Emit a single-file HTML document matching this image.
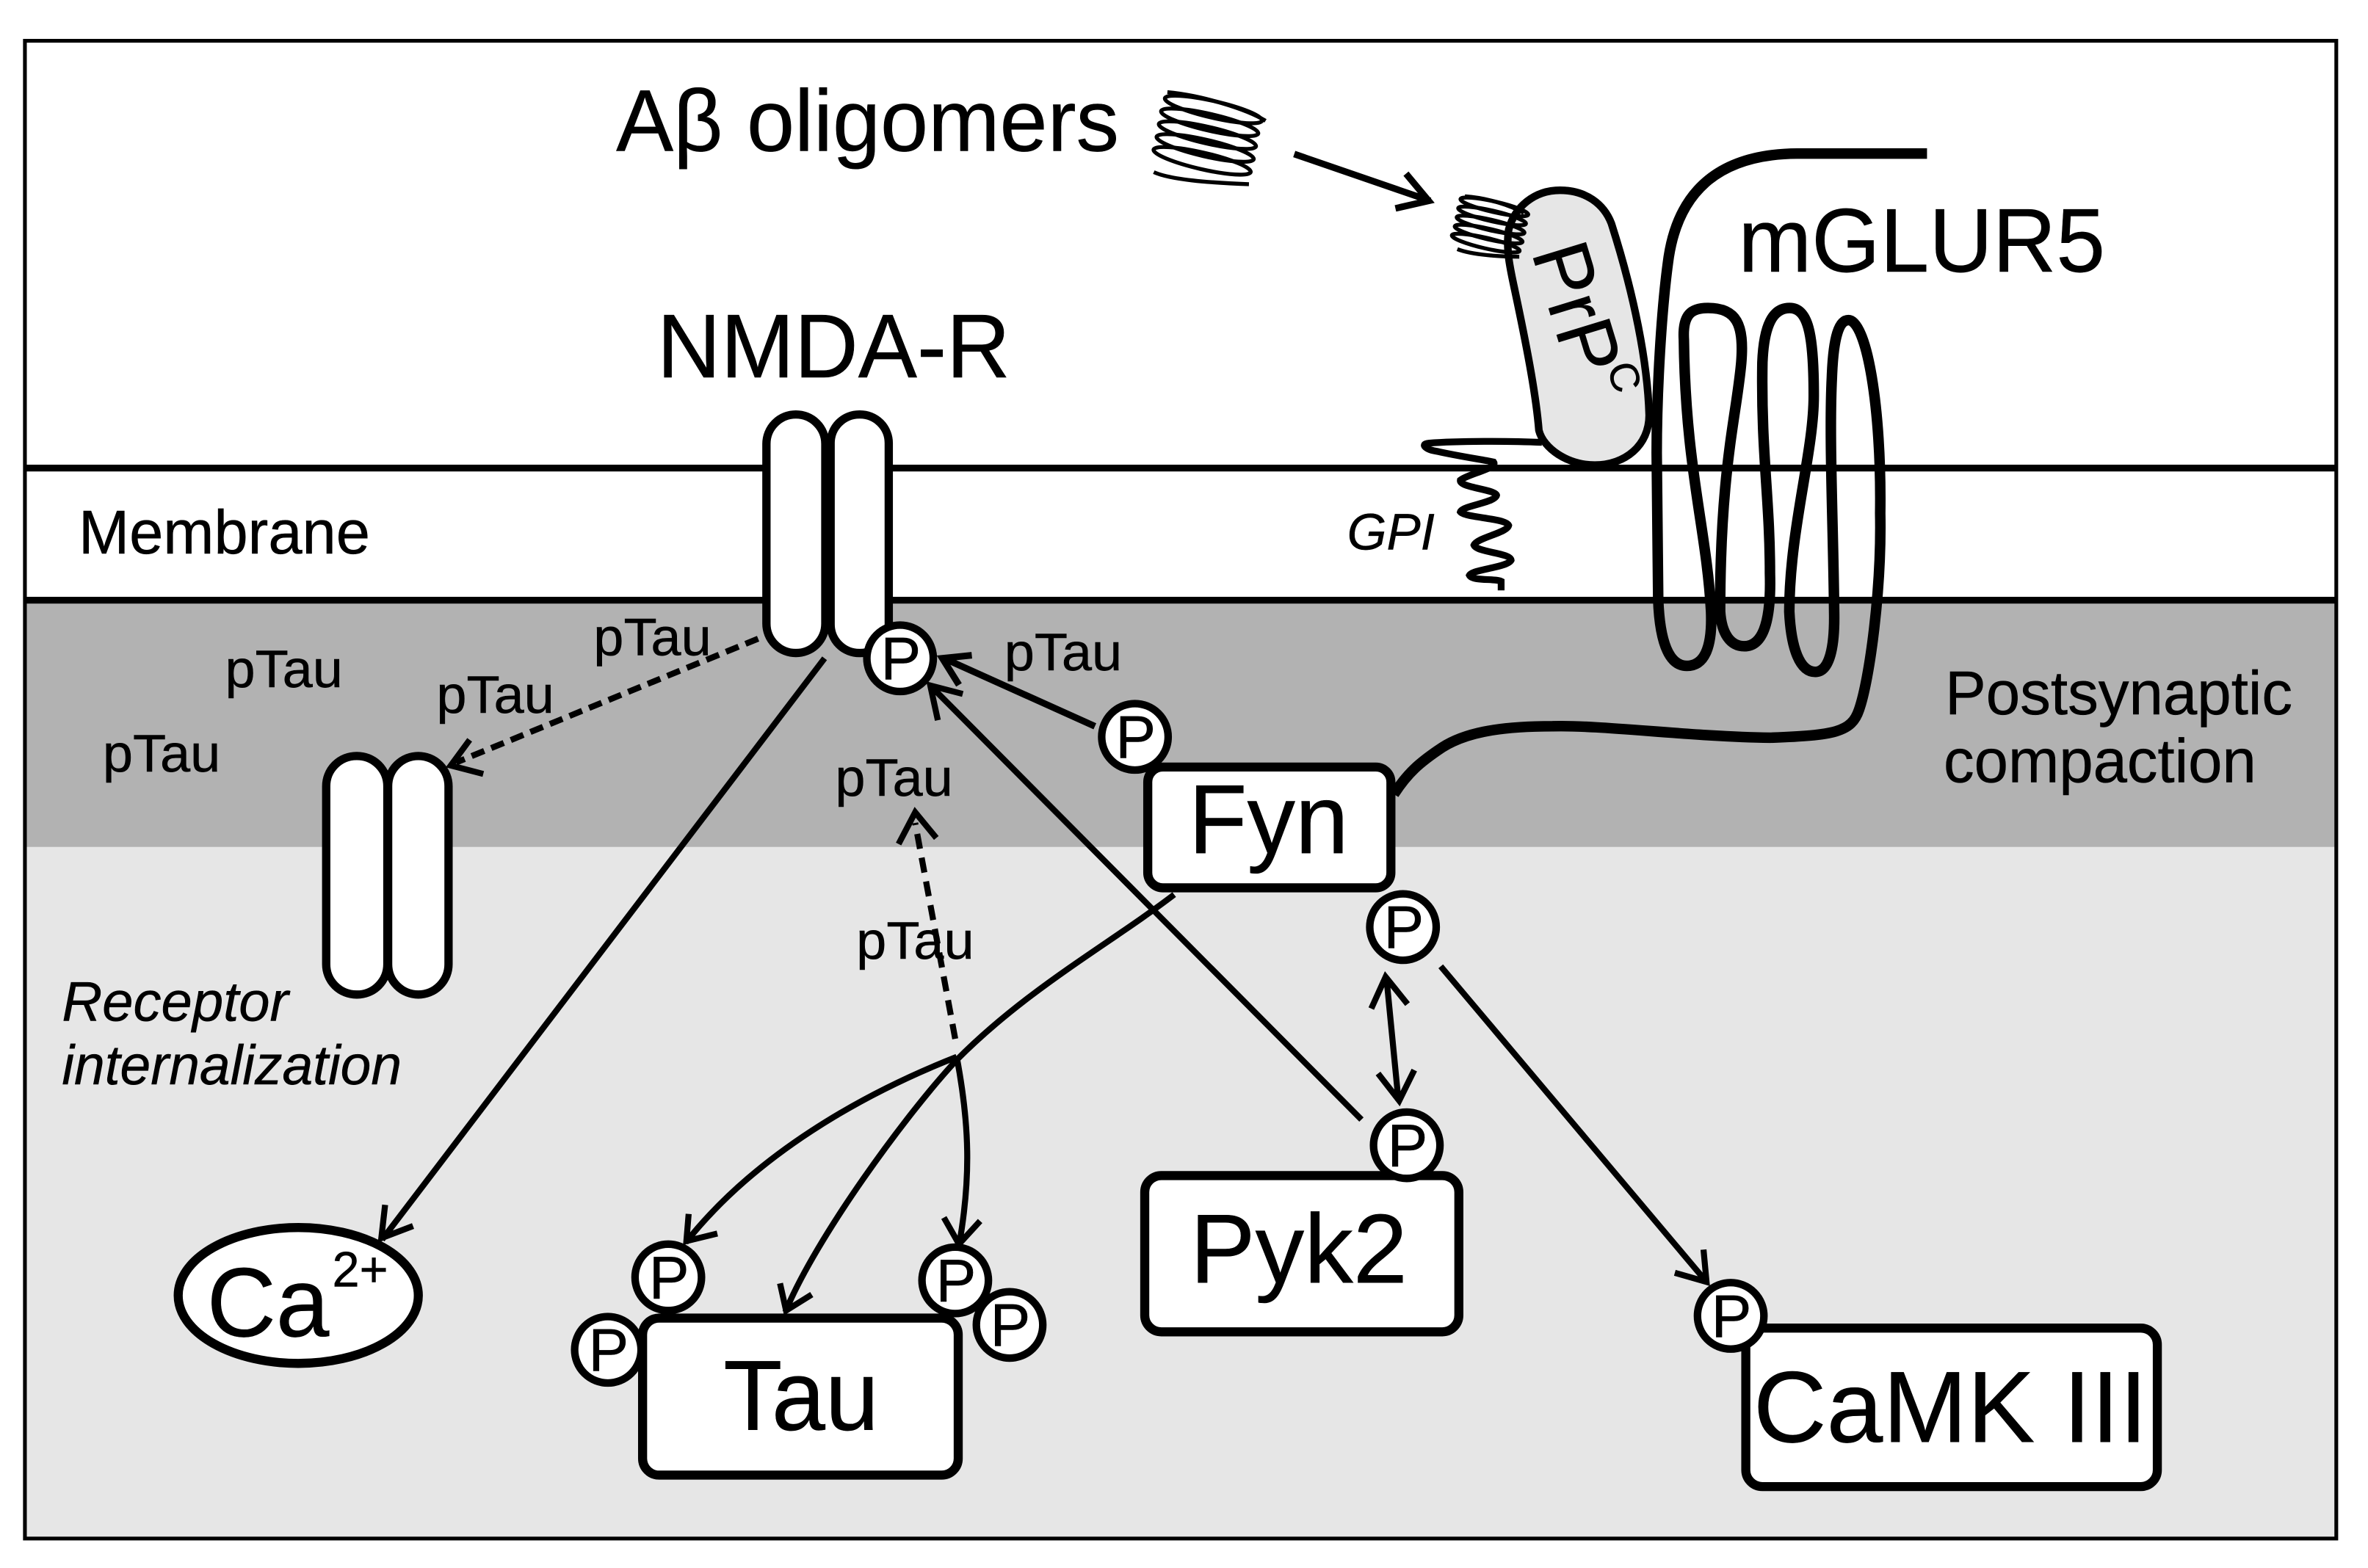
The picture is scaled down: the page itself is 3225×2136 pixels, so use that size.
<!DOCTYPE html>
<html><head><meta charset="utf-8"><title>Aβ oligomers signaling</title>
<style>html,body{margin:0;padding:0;background:#fff}svg{display:block}
text{font-family:"Liberation Sans",Arial,sans-serif;fill:#000;text-rendering:geometricPrecision;stroke:#000;stroke-width:.25}
.i{font-style:italic}
.a{fill:none;stroke:#000;stroke-width:4}
.p{fill:#fff;stroke:#000;stroke-width:5}
.b{fill:#fff;stroke:#000;stroke-width:6}
.c{fill:#fff;stroke:#000;stroke-width:5.5}
.t{font-size:35px}
.pt{font-size:40px;text-anchor:middle}
</style></head><body>
<svg xmlns="http://www.w3.org/2000/svg" width="3225" height="2136" viewBox="0 0 1568 1038.5">
<rect width="1568" height="1038.5" fill="#fff"/>
<rect x="16.5" y="397" width="1530" height="164" fill="#b2b2b2"/>
<rect x="16.5" y="561" width="1530" height="458" fill="#e6e6e6"/>
<rect x="16.5" y="27" width="1530.5" height="992" fill="none" stroke="#000" stroke-width="2.5"/>
<line x1="16.5" y1="310" x2="1547" y2="310" stroke="#000" stroke-width="4.5"/>
<line x1="16.5" y1="397.5" x2="1547" y2="397.5" stroke="#000" stroke-width="4.5"/>

<text x="408" y="100" font-size="58" textLength="333" lengthAdjust="spacingAndGlyphs">Aβ oligomers</text>
<text x="435" y="250" font-size="60" textLength="234" lengthAdjust="spacingAndGlyphs">NMDA-R</text>
<text x="1151" y="180" font-size="60" textLength="243" lengthAdjust="spacingAndGlyphs">mGLUR5</text>
<text x="52" y="366.5" font-size="41" textLength="193" lengthAdjust="spacingAndGlyphs">Membrane</text>
<text x="1288" y="473" font-size="41" textLength="230" lengthAdjust="spacingAndGlyphs">Postsynaptic</text>
<text x="1287" y="518" font-size="41" textLength="207" lengthAdjust="spacingAndGlyphs">compaction</text>
<text class="i" x="41" y="676" font-size="37" textLength="150" lengthAdjust="spacingAndGlyphs">Receptor</text>
<text class="i" x="41" y="718" font-size="37" textLength="225" lengthAdjust="spacingAndGlyphs">internalization</text>
<text class="i" x="892" y="364" font-size="34" textLength="58" lengthAdjust="spacingAndGlyphs">GPI</text>
<text class="t" x="393" y="434" textLength="78" lengthAdjust="spacingAndGlyphs">pTau</text>
<text class="t" x="149" y="455" textLength="78" lengthAdjust="spacingAndGlyphs">pTau</text>
<text class="t" x="289" y="472" textLength="78" lengthAdjust="spacingAndGlyphs">pTau</text>
<text class="t" x="68" y="511" textLength="78" lengthAdjust="spacingAndGlyphs">pTau</text>
<text class="t" x="665" y="444" textLength="78" lengthAdjust="spacingAndGlyphs">pTau</text>
<text class="t" x="553" y="527" textLength="78" lengthAdjust="spacingAndGlyphs">pTau</text>
<text class="t" x="567" y="635" textLength="78" lengthAdjust="spacingAndGlyphs">pTau</text>

<!-- PrP -->
<path d="M1033,126 C1016,126 1003,137 999,152 C997,165 1000,178 1003,192 C1010,225 1017,260 1019,285 C1022,297 1038,308 1056,308 C1076,308 1092,295 1092,275 C1091,240 1082,195 1067,148 C1062,135 1050,126 1033,126 Z" fill="#e6e6e6" stroke="#000" stroke-width="5"/>
<text transform="translate(1014,167) rotate(73)" font-size="53">PrP</text>
<text transform="translate(1064,243) rotate(73)" font-size="27">C</text>
<!-- GPI -->
<path d="M1021,293 C1000,292 965,292 946,293.5 C940,294 944,298 952,299 C965,302 985,305 989,306 C992,310 972,314 967,318 C966,323 990,324 991,328 C990,333 968,335 967,339 C970,343 997,343 999,348 C998,353 978,356 976,361 C978,366 1000,366 1000.6,371 C998,376 975,377 973,381 C975,385 990,383 994,385 L994,391" fill="none" stroke="#000" stroke-width="4.5"/>
<!-- mGLUR5 -->
<path d="M1276,101.7 L1190,101.7 C1140,102 1112,125 1105,170 C1100,205 1097,260 1097,300 L1098,397 C1099,425 1105,441 1117,441 C1128,441 1134,430 1133,405 C1130,350 1116,310 1115,225 C1114,208 1120,204 1131,204 C1150,204 1155,215 1153,240 C1150,275 1139,310 1139,405 C1140,420 1146,428 1155,428 C1166,428 1173,415 1172,380 C1172,330 1166,300 1167,240 C1168,215 1174,204 1185,204 C1197,204 1201,220 1201,262 C1201,300 1185,350 1184.8,405 C1186,430 1192,445 1202,445 C1211,445 1215,430 1214.5,405 C1214,350 1211,290 1213,250 C1214,222 1218,212 1224,212 C1236,212 1246,270 1245,340 C1246,390 1238,450 1231,470 C1226,485 1215,487 1172,488.6 C1120,488 1060,480 1028,481 C990,481 969,486 955,495 C940,505 932,512 923,526" fill="none" stroke="#000" stroke-width="7"/>

<!-- oligomers large -->
<g style="fill:none;stroke:#000;stroke-width:2.6">
<ellipse cx="803.5" cy="72.5" rx="33" ry="5.5" transform="rotate(13 803.5 72.5)"/>
<ellipse cx="801" cy="81" rx="33" ry="5.5" transform="rotate(13 801 81)"/>
<ellipse cx="799.5" cy="89.5" rx="33" ry="5.5" transform="rotate(13 799.5 89.5)"/>
<ellipse cx="798" cy="98" rx="33" ry="5.5" transform="rotate(13 798 98)"/>
<ellipse cx="796" cy="106.5" rx="33" ry="5.5" transform="rotate(13 796 106.5)"/>
<path d="M773,61 C795,63 825,72 838,80 M764,114 C775,119 800,121 827,122"/>
</g>
<!-- oligomers small -->
<g style="fill:none;stroke:#000;stroke-width:2.6">
<ellipse cx="989.5" cy="137" rx="23" ry="3.5" transform="rotate(13 989.5 137)"/>
<ellipse cx="988" cy="143" rx="23" ry="3.5" transform="rotate(13 988 143)"/>
<ellipse cx="987" cy="149" rx="23" ry="3.5" transform="rotate(13 987 149)"/>
<ellipse cx="985.7" cy="155" rx="23" ry="3.5" transform="rotate(13 985.7 155)"/>
<ellipse cx="983.8" cy="161" rx="23" ry="3.5" transform="rotate(13 983.8 161)"/>
<path d="M970,130 C985,131 1000,136 1009,141 M965,165 C975,169 995,170 1006,170"/>
</g>

<!-- NMDA -->
<rect class="c" x="507.5" y="274.5" width="39" height="158" rx="19.5"/>
<rect class="c" x="550" y="274.5" width="38.5" height="158" rx="19"/>
<!-- internalized -->
<rect class="c" x="216" y="500.7" width="40.5" height="158" rx="20"/>
<rect class="c" x="257" y="500.7" width="40" height="158" rx="20"/>

<!-- arrows -->
<path class="a" style="stroke-width:4.4" d="M857,102 L947,133 M931,115 L946,133 L924,138"/>
<path class="a" style="stroke-dasharray:9 5" d="M502,423 L302,505"/>
<path class="a" d="M311,490 L298.5,507 L320,512.6"/>
<path class="a" d="M546,436 L253,821 M255,798 L252.5,820 L273.5,812"/>
<path class="a" style="stroke-width:4.4" d="M725,481 L625,436 M643.5,434 L624,436 L635,453.6"/>
<path class="a" d="M901.5,741.5 L616,454 M637.5,459.6 L616,454 L621,477"/>
<path class="a" d="M777.5,592.5 C735,625 680,655 633.5,702 C600,738 540,820 520,869 M516.5,850 L520.5,868 L537.5,857.4"/>
<path class="a" d="M633.5,700 C570,725 500,765 454,823 M456,804 L454.5,822 L475,817"/>
<path class="a" d="M633.5,700 C642,745 643,780 635,825 M625,806.4 L635,824 L649,808.7"/>
<path class="a" style="stroke-dasharray:10 6" d="M632.5,688 L606,545"/>
<path class="a" d="M595,559 L606,538 L620,555"/>
<path class="a" d="M918,647 L926,729 M908,668 L917.5,647 L932,665 M912.5,711 L926.5,729 L936.5,708.7"/>
<path class="a" d="M954,640 L1130,849 M1128,827.6 L1130,849 L1109,843"/>

<!-- boxes -->
<rect class="b" x="760" y="508" width="161" height="80" rx="10"/>
<text x="787" y="565" font-size="65" textLength="106" lengthAdjust="spacingAndGlyphs">Fyn</text>
<rect class="b" x="758" y="778.6" width="208" height="103.5" rx="11"/>
<text x="788" y="849.5" font-size="65" textLength="144" lengthAdjust="spacingAndGlyphs">Pyk2</text>
<rect class="b" x="425.5" y="873" width="209" height="104" rx="11"/>
<text x="479" y="947" font-size="66" textLength="103" lengthAdjust="spacingAndGlyphs">Tau</text>
<rect class="b" x="1156" y="879.6" width="272.5" height="105" rx="11"/>
<text x="1161" y="955" font-size="67" textLength="261" lengthAdjust="spacingAndGlyphs">CaMK III</text>
<ellipse class="b" cx="197.5" cy="858" rx="79.5" ry="45"/>
<text x="137" y="885" font-size="65" textLength="81" lengthAdjust="spacingAndGlyphs">Ca</text>
<text x="220" y="852" font-size="33" textLength="37" lengthAdjust="spacingAndGlyphs">2+</text>

<!-- P circles -->
<circle class="p" cx="596" cy="436" r="22"/><text class="pt" x="596.5" y="450">P</text>
<circle class="p" cx="751.5" cy="488" r="22"/><text class="pt" x="752" y="502">P</text>
<circle class="p" cx="929" cy="614" r="22"/><text class="pt" x="929.5" y="628">P</text>
<circle class="p" cx="931.5" cy="758.5" r="22"/><text class="pt" x="932" y="772.5">P</text>
<circle class="p" cx="1146" cy="871.5" r="22"/><text class="pt" x="1146.5" y="885.5">P</text>
<circle class="p" cx="442.5" cy="846" r="22"/><text class="pt" x="443" y="860">P</text>
<circle class="p" cx="402.5" cy="894" r="22"/><text class="pt" x="403" y="908">P</text>
<circle class="p" cx="668.5" cy="877.5" r="22"/><text class="pt" x="669" y="891.5">P</text>
<circle class="p" cx="632.5" cy="848" r="22"/><text class="pt" x="633" y="862">P</text>
</svg>
</body></html>
